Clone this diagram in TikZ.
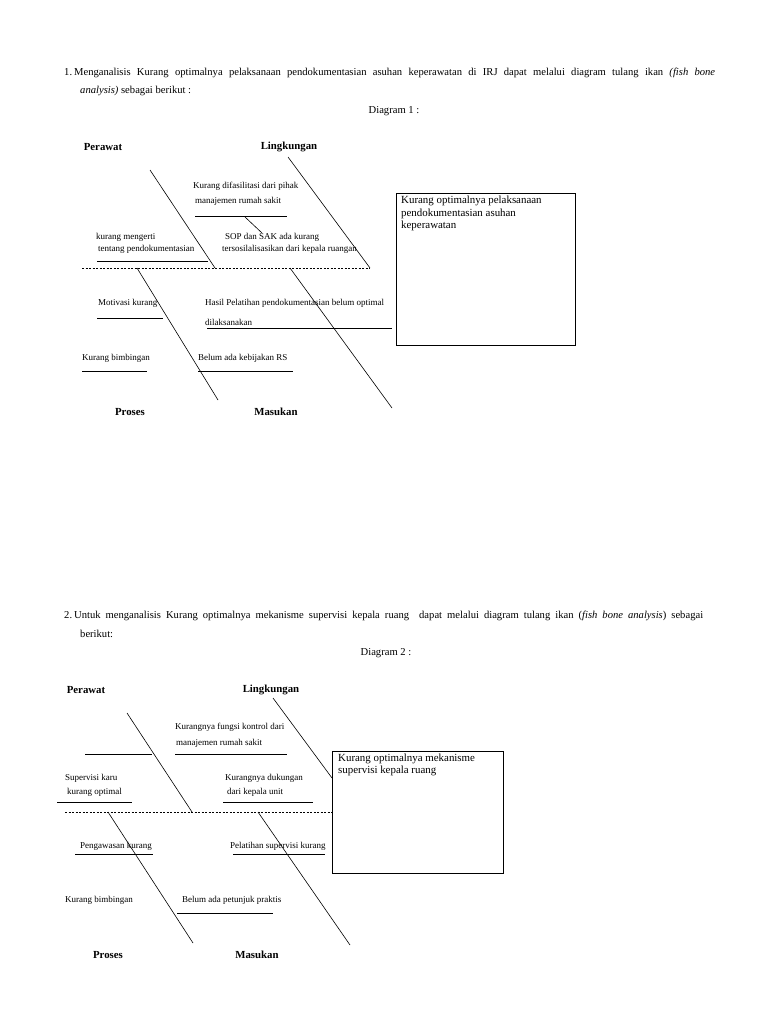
\documentclass[tikz,border=0pt]{standalone}
\usepackage{fontspec}
\setmainfont{Liberation Serif}
\begin{document}
\begin{tikzpicture}[x=1pt,y=-1pt,
  lbl/.style={font=\fontsize{9}{10}\selectfont, inner sep=0pt, anchor=west},
  head/.style={font=\fontsize{10.8}{12}\selectfont\bfseries, inner sep=0pt},
  body/.style={font=\fontsize{10.6}{12}\selectfont, inner sep=0pt, anchor=west},
  boxtext/.style={font=\fontsize{10.9}{12.5}\selectfont, inner sep=0pt, anchor=north west, align=left},
  bone/.style={line width=0.6pt},
  uline/.style={line width=0.8pt},
  spine/.style={line width=0.6pt, dash pattern=on 2pt off 1.5pt},
  effect/.style={draw, line width=0.8pt}]
\useasboundingbox (0,0) rectangle (768,1024);
\fill[white] (0,0) rectangle (768,1024);

% ---------------- Diagram 1 ----------------
\node[body] (t1a) at (64,73) {\makebox[651pt][s]{1.\hspace{2pt}Menganalisis Kurang optimalnya pelaksanaan pendokumentasian asuhan keperawatan di IRJ dapat melalui diagram tulang ikan \textit{(fish bone}}};
\node[body] (t1b) at (80,91) {\textit{analysis)} sebagai berikut :};
\node[body, anchor=center] (d1) at (394,111) {Diagram 1 :};

\node[head] (p1) at (103,147) {Perawat};
\node[head] (l1) at (289,147) {Lingkungan};
\node[head] (pr1) at (130,412) {Proses};
\node[head] (m1) at (276,412) {Masukan};

\node[effect, minimum width=179pt, minimum height=151pt, anchor=north west, inner sep=0pt] (e1) at (395.5,193.5) {};
\node[boxtext] (e1t) at (401,196) {Kurang optimalnya pelaksanaan\\pendokumentasian asuhan\\keperawatan};

\coordinate (s1a) at (82,268);
\coordinate (s1b) at (370,268);
\draw[spine] (s1a) -- (s1b);

\coordinate (b1a) at (150,170);  \coordinate (b1b) at (215,268);
\coordinate (b2a) at (288,157);  \coordinate (b2b) at (370,268);
\coordinate (b3a) at (137,268);  \coordinate (b3b) at (218,400);
\coordinate (b4a) at (290,268);  \coordinate (b4b) at (392,408);
\draw[bone] (b1a) -- (b1b);
\draw[bone] (b2a) -- (b2b);
\draw[bone] (b3a) -- (b3b);
\draw[bone] (b4a) -- (b4b);

\node[lbl] (k1) at (193,186) {Kurang difasilitasi dari pihak};
\node[lbl] (k2) at (195,201) {manajemen rumah sakit};
\coordinate (u1a) at (195,216); \coordinate (u1b) at (287,216);
\draw[uline] (u1a) -- (u1b);
\coordinate (sb1a) at (245,217); \coordinate (sb1b) at (262,233);
\draw[bone] (sb1a) -- (sb1b);

\node[lbl] (k3) at (96,237) {kurang mengerti};
\node[lbl] (k4) at (98,249) {tentang pendokumentasian};
\coordinate (u2a) at (97,261); \coordinate (u2b) at (208,261);
\draw[uline] (u2a) -- (u2b);

\node[lbl] (k5) at (225,237) {SOP dan SAK ada kurang};
\node[lbl] (k6) at (222,249) {tersosilalisasikan dari kepala ruangan};

\node[lbl] (k7) at (98,303) {Motivasi kurang};
\coordinate (u3a) at (97,318); \coordinate (u3b) at (163,318);
\draw[uline] (u3a) -- (u3b);

\node[lbl] (k8) at (205,303) {Hasil Pelatihan pendokumentasian belum optimal};
\node[lbl] (k9) at (205,322) {dilaksanakan};
\coordinate (u4a) at (207,328); \coordinate (u4b) at (392,328);
\draw[uline] (u4a) -- (u4b);

\node[lbl] (k10) at (82,358) {Kurang bimbingan};
\coordinate (u5a) at (82,371); \coordinate (u5b) at (147,371);
\draw[uline] (u5a) -- (u5b);

\node[lbl] (k11) at (198,358) {Belum ada kebijakan RS};
\coordinate (u6a) at (198,371); \coordinate (u6b) at (293,371);
\draw[uline] (u6a) -- (u6b);

% ---------------- Diagram 2 ----------------
\node[body] (t2a) at (64,616) {\makebox[639pt][s]{2.\hspace{2pt}Untuk menganalisis Kurang optimalnya mekanisme supervisi kepala ruang \ dapat melalui diagram tulang ikan (\textit{fish bone analysis}) sebagai}};
\node[body] (t2b) at (80,634) {berikut:};
\node[body, anchor=center] (d2) at (386,653) {Diagram 2 :};

\node[head] (p2) at (86,690) {Perawat};
\node[head] (l2) at (271,690) {Lingkungan};
\node[head] (pr2) at (108,955) {Proses};
\node[head] (m2) at (257,955) {Masukan};

\node[effect, minimum width=171pt, minimum height=122pt, anchor=north west, inner sep=0pt] (e2) at (332,751) {};
\node[boxtext] (e2t) at (338,753.5) {Kurang optimalnya mekanisme\\supervisi kepala ruang};

\coordinate (s2a) at (65,812);
\coordinate (s2b) at (332,812);
\draw[spine] (s2a) -- (s2b);

\coordinate (c1a) at (127,713);  \coordinate (c1b) at (192,812);
\coordinate (c2a) at (273,698);  \coordinate (c2b) at (332,778);
\coordinate (c3a) at (108,812);  \coordinate (c3b) at (193,943);
\coordinate (c4a) at (258,812);  \coordinate (c4b) at (350,945);
\draw[bone] (c1a) -- (c1b);
\draw[bone] (c2a) -- (c2b);
\draw[bone] (c3a) -- (c3b);
\draw[bone] (c4a) -- (c4b);

\node[lbl] (q1) at (175,727) {Kurangnya fungsi kontrol dari};
\node[lbl] (q2) at (176,743) {manajemen rumah sakit};
\coordinate (v1a) at (175,754); \coordinate (v1b) at (287,754);
\draw[uline] (v1a) -- (v1b);
\coordinate (v2a) at (85,754); \coordinate (v2b) at (152,754);
\draw[uline] (v2a) -- (v2b);

\node[lbl] (q3) at (65,778) {Supervisi karu};
\node[lbl] (q4) at (67,792) {kurang optimal};
\coordinate (v3a) at (57,802); \coordinate (v3b) at (132,802);
\draw[uline] (v3a) -- (v3b);

\node[lbl] (q5) at (225,778) {Kurangnya dukungan};
\node[lbl] (q6) at (227,792) {dari kepala unit};
\coordinate (v4a) at (223,802); \coordinate (v4b) at (313,802);
\draw[uline] (v4a) -- (v4b);

\node[lbl] (q7) at (80,846) {Pengawasan kurang};
\coordinate (v5a) at (75,854); \coordinate (v5b) at (153,854);
\draw[uline] (v5a) -- (v5b);

\node[lbl] (q8) at (230,846) {Pelatihan supervisi kurang};
\coordinate (v6a) at (233,854); \coordinate (v6b) at (325,854);
\draw[uline] (v6a) -- (v6b);

\node[lbl] (q9) at (65,900) {Kurang bimbingan};

\node[lbl] (q10) at (182,900) {Belum ada petunjuk praktis};
\coordinate (v7a) at (177,913); \coordinate (v7b) at (273,913);
\draw[uline] (v7a) -- (v7b);
\end{tikzpicture}
\end{document}
